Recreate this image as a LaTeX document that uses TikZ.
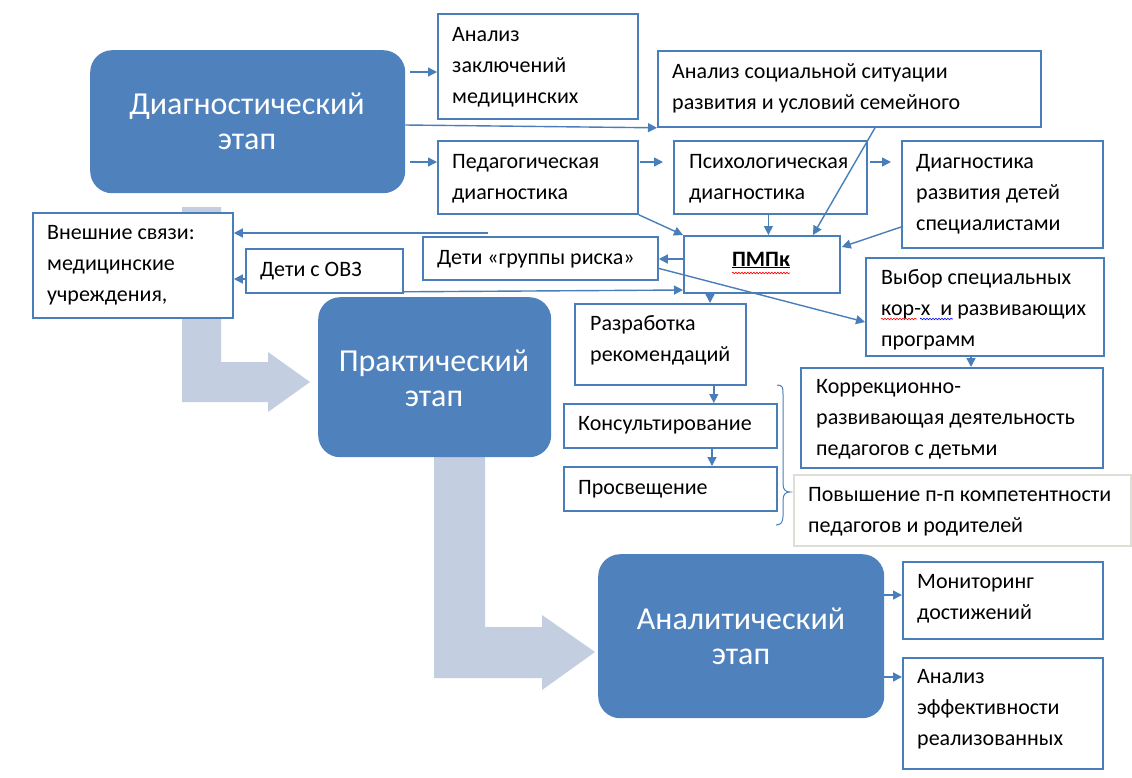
\documentclass[tikz,border=0pt]{standalone}
\usepackage{fontspec}
\setmainfont{Carlito}
\usetikzlibrary{arrows.meta,calc,decorations.pathmorphing}
\definecolor{lineblue}{RGB}{74,126,187}
\definecolor{stageblue}{RGB}{79,129,189}
\definecolor{fatgrey}{RGB}{195,206,225}
\definecolor{softgrey}{RGB}{222,222,212}
\tikzset{
 box/.style={draw=lineblue, line width=1.8pt, fill=white, rectangle, inner sep=0pt, anchor=north west},
 softbox/.style={box, draw=softgrey},
 stage/.style={fill=stageblue, rounded corners=22pt, rectangle, inner sep=0pt, anchor=north west},
 txt/.style={anchor=base west, inner sep=0pt, align=flush left, text width=330pt, font=\fontsize{22}{31}\selectfont},
 stagetxt/.style={anchor=base, inner sep=0pt, align=flush center, text width=300pt, text=white, font=\fontsize{32}{35}\selectfont},
 conn/.style={draw=lineblue, line width=1.4pt, -{Triangle[length=9pt,width=9pt]}},
 fat/.style={fill=fatgrey},
 wave/.style={line width=0.6pt, decorate, decoration={snake, amplitude=0.8pt, segment length=3pt}},
}
\begin{document}
\begin{tikzpicture}[x=1pt,y=-1pt]
\useasboundingbox (0,0) rectangle (1132,777);
\fill[white] (0,0) rectangle (1132,777);
% fat arrows
\fill[fat] (182,207) -- (221,207) -- (221,362) -- (268,362) -- (268,352) -- (310,382) -- (268,412) -- (268,402) -- (182,402) -- cycle;
\fill[fat] (434,457) -- (485,457) -- (485,627) -- (542,627) -- (542,615) -- (595,652) -- (542,690) -- (542,678) -- (434,678) -- cycle;
% stages
\node[stage, minimum width=315pt, minimum height=143pt] (diag) at (90,50) {};
\node[stagetxt] (diagT) at (247,114) {Диагностический\\этап};
\node[stage, minimum width=233pt, minimum height=160pt] (prac) at (318,297) {};
\node[stagetxt] (pracT) at (434,371) {Практический\\этап};
\node[stage, minimum width=286pt, minimum height=164pt] (anal) at (598,554) {};
\node[stagetxt] (analT) at (741,629) {Аналитический\\этап};
% boxes
\node[box, minimum width=200pt, minimum height=105pt] (zakl) at (437,13) {};
\node[txt] (zaklT) at (452,41) {Анализ\\заключений\\медицинских};
\node[box, minimum width=383pt, minimum height=76pt] (soc) at (657,50) {};
\node[txt] (socT) at (672,78) {Анализ социальной ситуации\\развития и условий семейного};
\node[box, minimum width=200pt, minimum height=73pt] (ped) at (437,140) {};
\node[txt] (pedT) at (452,168) {Педагогическая\\диагностика};
\node[box, minimum width=193pt, minimum height=73pt] (psy) at (673,140) {};
\node[txt] (psyT) at (689,168) {Психологическая\\диагностика};
\node[box, minimum width=201pt, minimum height=107pt] (dev) at (901,140) {};
\node[txt] (devT) at (916,168) {Диагностика\\развития детей\\специалистами};
\node[box, minimum width=156pt, minimum height=57pt] (pmpk) at (683,235) {};
\node[anchor=base, inner sep=0pt, font=\fontsize{22}{24}\selectfont\bfseries] (pmpkT) at (761,266) {\underline{ПМПк}};
\node[box, minimum width=235pt, minimum height=43pt] (risk) at (422,236) {};
\node[txt] (riskT) at (437,264) {Дети «группы риска»};
\node[box, minimum width=200pt, minimum height=105pt] (ext) at (32,212) {};
\node[txt] (extT) at (47,239) {Внешние связи:\\медицинские\\учреждения,};
\node[box, minimum width=157pt, minimum height=44pt] (ovz) at (245,248) {};
\node[txt] (ovzT) at (260,276) {Дети с ОВЗ};
\node[box, minimum width=171pt, minimum height=81pt] (rec) at (574,303) {};
\node[txt] (recT) at (590,330) {Разработка\\рекомендаций};
\node[box, minimum width=238pt, minimum height=98pt] (choice) at (865,257) {};
\node[txt] (choiceT) at (881,284) {Выбор специальных\\кор-х~~и развивающих\\программ};
\node[box, minimum width=302pt, minimum height=100pt] (corr) at (800,367) {};
\node[txt] (corrT) at (816,393) {Коррекционно-\\развивающая деятельность\\педагогов с детьми};
\node[box, minimum width=213pt, minimum height=44pt] (cons) at (563,403) {};
\node[txt] (consT) at (578,430) {Консультирование};
\node[box, minimum width=213pt, minimum height=44pt] (enl) at (563,466) {};
\node[txt] (enlT) at (578,494) {Просвещение};
\node[softbox, minimum width=337pt, minimum height=71pt] (pov) at (793,474) {};
\node[txt] (povT) at (808,501) {Повышение п-п компетентности\\педагогов и родителей};
\node[box, minimum width=200pt, minimum height=77pt] (mon) at (902,561) {};
\node[txt] (monT) at (917,588) {Мониторинг\\достижений};
\node[box, minimum width=200pt, minimum height=111pt] (eff) at (902,657) {};
\node[txt] (effT) at (917,683) {Анализ\\эффективности\\реализованных};
% spell-check waves
\draw[red, wave] ($(pmpkT.base west)+(0,7)$) -- ($(pmpkT.base east)+(0,7)$);
\draw[red, wave] ($(choiceT.base west)+(0,35)$) -- ($(choiceT.base west)+(36,35)$);
\draw[blue, wave] ($(choiceT.base west)+(39,35)$) -- ($(choiceT.base west)+(72,35)$);
% connectors
\draw[conn] ($(diag.east|-0,72)+(5,0)$) -- (zakl.west|-0,72);
\draw[conn] (diag.east|-0,125) -- (soc.south west);
\draw[conn] ($(diag.east|-0,162)+(5,0)$) -- (ped.west|-0,162);
\draw[conn] ($(ped.east|-0,162)+(1,0)$) -- ($(psy.west|-0,162)+(-10,0)$);
\draw[conn] ($(psy.east|-0,162)+(2,0)$) -- ($(dev.west|-0,162)+(-10,0)$);
\draw[conn] (ped.south east) -- (pmpk.north west);
\coordinate (p1) at ($(psy.south)+(-2,0)$);
\draw[conn] (p1) -- (p1|-pmpk.north);
\draw[conn] ($(soc.south west)+(218,0)$) -- ($(pmpk.north west)+(130,0)$);
\draw[conn] ($(dev.north west)+(0,87)$) -- ($(pmpk.north east)+(1,12)$);
\draw[conn] (pmpk.west|-0,259) -- (risk.east|-0,259);
\coordinate (r1) at ($(risk.north west)+(66,-3)$);
\draw[conn] (r1) -- (ext.east|-r1);
\draw[conn] ($(risk.east)+(0,10)$) -- ($(choice.north west)+(0,65)$);
\draw[conn] (ovz.west|-0,279) -- (ext.east|-0,279);
\draw[conn] ($(ovz.south east)+(0,-2)$) -- (pmpk.west|-0,290);
\coordinate (p2) at ($(pmpk.south west)+(27,0)$);
\draw[conn] (p2) -- (p2|-rec.north);
\coordinate (p3) at ($(rec.south east)+(-33,0)$);
\draw[conn] (p3) -- (p3|-cons.north);
\coordinate (p4) at ($(cons.south west)+(149,0)$);
\draw[conn] (p4) -- (p4|-enl.north);
\coordinate (p5) at ($(choice.south west)+(106,0)$);
\draw[conn] (p5) -- (p5|-corr.north);
\draw[conn] (anal.east|-0,595) -- (mon.west|-0,595);
\draw[conn] (anal.east|-0,677) -- (eff.west|-0,677);
% brace
\draw[lineblue, line width=1pt] (777,385) .. controls (783,385) and (783,388) .. (783,394) -- (783,484) .. controls (783,490) and (786,492) .. (790,492) .. controls (786,492) and (783,494) .. (783,500) -- (783,516) .. controls (783,522) and (781,525) .. (776,525);
\end{tikzpicture}
\end{document}
